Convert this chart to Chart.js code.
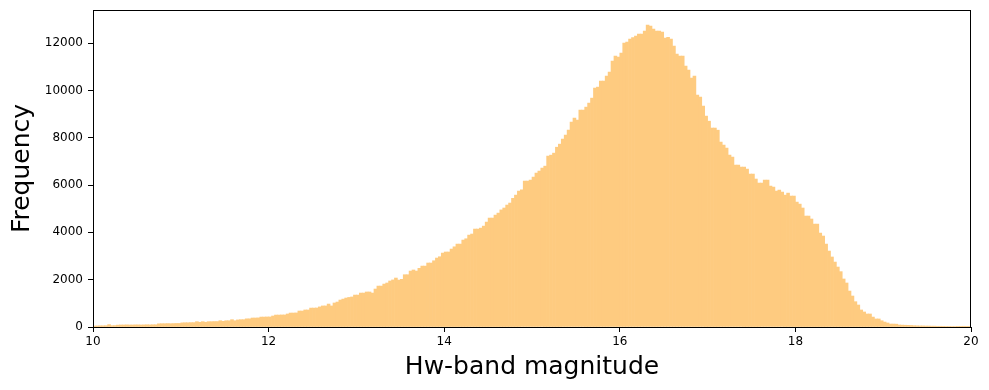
<!DOCTYPE html>
<html>
<head>
<meta charset="utf-8">
<script src="https://cdn.jsdelivr.net/npm/chart.js@4/dist/chart.umd.min.js"></script>
<style>
  html, body { margin: 0; padding: 0; background: #ffffff; }
  #wrap { width: 989px; height: 390px; }
</style>
</head>
<body>
<div id="wrap"><canvas id="c" width="989" height="390"></canvas></div>
<script>
// Histogram range (magnitude) and bin counts
const binRange = [10, 20];
const counts = [
  40,45,50,50,55,100,55,60,80,85,
  85,90,85,85,90,90,85,90,95,90,
  95,95,135,140,140,145,140,145,150,150,
  175,180,180,185,185,225,200,225,200,225,
  225,230,230,265,240,265,265,310,265,300,
  310,310,345,345,380,380,385,420,420,425,
  425,465,505,505,510,510,550,590,590,595,
  675,675,720,720,800,800,805,850,890,890,
  970,890,1015,1055,1140,1180,1225,1250,1270,1350,
  1350,1435,1435,1480,1480,1435,1605,1730,1730,1815,
  1860,1945,1990,2070,1985,2015,2210,2210,2365,2410,
  2365,2480,2575,2575,2705,2705,2800,2915,2970,3125,
  3170,3170,3295,3390,3505,3505,3675,3730,3885,3930,
  4140,4140,4180,4265,4435,4605,4605,4730,4815,4950,
  5030,5155,5240,5440,5575,5745,5800,6170,6170,6210,
  6340,6505,6590,6720,6800,7225,7265,7350,7600,7730,
  7945,8110,8325,8660,8830,8745,9170,9170,9295,9465,
  9675,10100,10140,10395,10395,10605,10775,11240,11450,11410,
  11575,12000,12040,12170,12230,12295,12380,12380,12505,12760,
  12715,12590,12505,12505,12465,12210,12250,12170,11870,11535,
  11450,11450,11030,10860,10520,10605,9800,9720,9340,8915,
  8700,8410,8410,8320,7815,7690,7560,7265,7180,6845,
  6845,6760,6760,6675,6465,6465,6255,6085,6085,6210,
  6210,5955,5915,5745,5790,5705,5575,5660,5535,5535,
  5280,5195,5030,4690,4690,4565,4350,4350,3970,3845,
  3505,3210,2960,2745,2535,2340,2030,1860,1520,1310,
  1070,930,720,635,550,550,420,340,340,265,
  210,170,125,125,120,85,80,75,70,65,
  55,50,45,45,40,40,35,35,30,30,
  28,25,25,22,20,10,8,30,5,3
];
const xTicks = [10, 12, 14, 16, 18, 20];
const yTicks = [0, 2000, 4000, 6000, 8000, 10000, 12000];
const yMax = 13400;
const xLabel = 'Hw-band magnitude';
const yLabel = 'Frequency';

const binWidth = (binRange[1] - binRange[0]) / counts.length;
const points = counts.map((v, i) => ({ x: binRange[0] + (i + 0.5) * binWidth, y: v }));

const FONT = 'DejaVu Sans';

const frame = {
  id: 'frame',
  afterDraw(chart) {
    const { ctx, chartArea: a } = chart;
    ctx.save();
    ctx.strokeStyle = '#000';
    ctx.lineWidth = 1;
    ctx.strokeRect(Math.round(a.left) + 0.5, Math.round(a.top) + 0.5,
                   Math.round(a.right - a.left) - 1, Math.round(a.bottom - a.top));
    ctx.restore();
  }
};

new Chart(document.getElementById('c'), {
  type: 'bar',
  data: {
    datasets: [{
      data: points,
      backgroundColor: '#FECB80',
      borderWidth: 0,
      categoryPercentage: 1.0,
      barPercentage: 1.0
    }]
  },
  options: {
    responsive: false,
    devicePixelRatio: 1,
    animation: false,
    layout: { padding: { left: 0, right: 18, top: 10, bottom: 0 } },
    plugins: { legend: { display: false }, tooltip: { enabled: false } },
    scales: {
      x: {
        type: 'linear',
        min: binRange[0],
        max: binRange[1],
        offset: false,
        afterFit(s) { s.height = 63; s.paddingLeft = 0; s.paddingRight = 0; },
        afterBuildTicks(s) { s.ticks = xTicks.map(v => ({ value: v })); },
        grid: { display: true, offset: false, drawOnChartArea: false, drawTicks: true, tickLength: 5, color: '#000', lineWidth: 1 },
        border: { display: true, color: '#000', width: 1 },
        ticks: { color: '#000', font: { family: FONT, size: 12 }, padding: 3, maxRotation: 0, callback: v => String(v) },
        title: { display: true, text: xLabel, color: '#000', font: { family: FONT, size: 25 }, padding: { top: 0, bottom: 8 } }
      },
      y: {
        type: 'linear',
        min: 0,
        max: yMax,
        afterFit(s) { s.width = 93; s.paddingTop = 0; s.paddingBottom = 0; },
        afterBuildTicks(s) { s.ticks = yTicks.map(v => ({ value: v })); },
        grid: { display: true, drawOnChartArea: false, drawTicks: true, tickLength: 5, color: '#000', lineWidth: 1 },
        border: { display: true, color: '#000', width: 1 },
        ticks: { color: '#000', font: { family: FONT, size: 12 }, padding: 5, callback: v => String(v) },
        title: { display: true, text: yLabel, color: '#000', font: { family: FONT, size: 25 }, padding: { top: 7, bottom: 0 } }
      }
    }
  },
  plugins: [frame]
});
</script>
</body>
</html>
